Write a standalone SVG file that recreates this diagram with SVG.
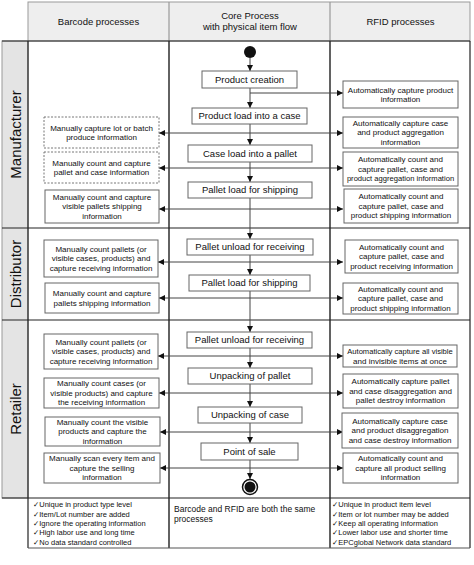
<svg xmlns="http://www.w3.org/2000/svg" width="474" height="565" viewBox="0 0 474 565">
<style>
text{font-family:"Liberation Sans","DejaVu Sans",Arial,sans-serif;fill:#111}
.hdrtxt{font-size:9.5px;text-anchor:middle}
.lane{font-size:15px;text-anchor:middle}
.core rect{fill:#fff;stroke:#666;stroke-width:1}
.core text{font-size:9.5px;text-anchor:middle}
.side rect{fill:#fff;stroke:#666;stroke-width:1}
.side rect.dash{stroke:#777;stroke-dasharray:2 1.5}
.side text{font-size:8px;text-anchor:middle}
.side text.tight{font-size:7.6px}
.foot{font-size:7.5px}
.foot2{font-size:8.5px}
.grid{stroke:#222;stroke-width:1.2;fill:none}
.conn line{stroke:#444;stroke-width:1}
</style>
<defs>
<marker id="ah" viewBox="0 0 8 8" refX="8" refY="4" markerWidth="6" markerHeight="6" orient="auto" markerUnits="userSpaceOnUse"><path d="M0,0 L8,4 L0,8 z" fill="#111"/></marker>
</defs>
<rect width="474" height="565" fill="#fff"/>
<g id="table">
<rect x="28" y="2" width="442" height="39" fill="#eeeeee" stroke="#999" stroke-width="1"/>
<rect x="2" y="41" width="26" height="457" fill="#e4e4e4" stroke="#999" stroke-width="1"/>
<line class="grid" x1="169" y1="2" x2="169" y2="548" style="stroke:#999"/>
<line class="grid" x1="330" y1="2" x2="330" y2="548" style="stroke:#999"/>
<line class="grid" x1="169" y1="41" x2="169" y2="548"/>
<line class="grid" x1="330" y1="41" x2="330" y2="548"/>
<line class="grid" x1="28" y1="41" x2="28" y2="548"/>
<line class="grid" x1="470" y1="41" x2="470" y2="548"/>
<line class="grid" x1="2" y1="41" x2="470" y2="41"/>
<line class="grid" x1="2" y1="228" x2="470" y2="228"/>
<line class="grid" x1="2" y1="320" x2="470" y2="320"/>
<line class="grid" x1="2" y1="498" x2="470" y2="498"/>
<line class="grid" x1="28" y1="548" x2="470" y2="548" style="stroke:#555"/>
<text class="hdrtxt" x="98.5" y="25">Barcode processes</text>
<text class="hdrtxt" x="250" y="19">Core Process</text>
<text class="hdrtxt" x="250" y="30">with physical item flow</text>
<text class="hdrtxt" x="400.5" y="25">RFID processes</text>
<text class="lane" transform="translate(21,134.5) rotate(-90)">Manufacturer</text>
<text class="lane" transform="translate(21,274) rotate(-90)">Distributor</text>
<text class="lane" transform="translate(21,409) rotate(-90)">Retailer</text>
<text class="foot" x="33" y="507">✓Unique in product type level</text>
<text class="foot" x="33" y="516.5">✓Item/Lot number are added</text>
<text class="foot" x="33" y="526">✓Ignore the operating information</text>
<text class="foot" x="33" y="535.4">✓High labor use and long time</text>
<text class="foot" x="33" y="544.8">✓No data standard controlled</text>
<text class="foot2" x="174" y="512">Barcode and RFID are both the same</text>
<text class="foot2" x="174" y="522">processes</text>
<text class="foot" x="332" y="507">✓Unique in product item level</text>
<text class="foot" x="332" y="516.5">✓Item or lot number may be added</text>
<text class="foot" x="332" y="526">✓Keep all operating information</text>
<text class="foot" x="332" y="535.4">✓Lower labor use and shorter time</text>
<text class="foot" x="332" y="544.8">✓EPCglobal Network data standard</text>
</g>
<g id="connectors" class="conn">
<line x1="250" y1="58" x2="250" y2="71" marker-end="url(#ah)"/>
<line x1="250" y1="88" x2="250" y2="108" marker-end="url(#ah)"/>
<line x1="250" y1="124" x2="250" y2="145" marker-end="url(#ah)"/>
<line x1="250" y1="162" x2="250" y2="182" marker-end="url(#ah)"/>
<line x1="250" y1="198" x2="250" y2="239" marker-end="url(#ah)"/>
<line x1="250" y1="255" x2="250" y2="275" marker-end="url(#ah)"/>
<line x1="250" y1="291" x2="250" y2="332" marker-end="url(#ah)"/>
<line x1="250" y1="348" x2="250" y2="368" marker-end="url(#ah)"/>
<line x1="250" y1="384" x2="250" y2="407" marker-end="url(#ah)"/>
<line x1="250" y1="423" x2="250" y2="443" marker-end="url(#ah)"/>
<line x1="250" y1="460" x2="250" y2="479" marker-end="url(#ah)"/>
<line x1="250" y1="93" x2="343" y2="93" marker-end="url(#ah)"/>
<line x1="250" y1="133" x2="159" y2="133" marker-end="url(#ah)"/>
<line x1="250" y1="133" x2="343" y2="133" marker-end="url(#ah)"/>
<line x1="250" y1="168" x2="159" y2="168" marker-end="url(#ah)"/>
<line x1="250" y1="168" x2="343" y2="168" marker-end="url(#ah)"/>
<line x1="250" y1="209" x2="159" y2="209" marker-end="url(#ah)"/>
<line x1="250" y1="209" x2="343" y2="209" marker-end="url(#ah)"/>
<line x1="250" y1="262" x2="158" y2="262" marker-end="url(#ah)"/>
<line x1="250" y1="262" x2="343" y2="262" marker-end="url(#ah)"/>
<line x1="250" y1="298" x2="159" y2="298" marker-end="url(#ah)"/>
<line x1="250" y1="298" x2="343" y2="298" marker-end="url(#ah)"/>
<line x1="250" y1="356" x2="158" y2="356" marker-end="url(#ah)"/>
<line x1="250" y1="356" x2="343" y2="356" marker-end="url(#ah)"/>
<line x1="250" y1="393" x2="159" y2="393" marker-end="url(#ah)"/>
<line x1="250" y1="393" x2="343" y2="393" marker-end="url(#ah)"/>
<line x1="250" y1="432" x2="160" y2="432" marker-end="url(#ah)"/>
<line x1="250" y1="432" x2="343" y2="432" marker-end="url(#ah)"/>
<line x1="250" y1="468" x2="160" y2="468" marker-end="url(#ah)"/>
<line x1="250" y1="468" x2="343" y2="468" marker-end="url(#ah)"/>
</g>
<g id="start"><circle cx="250" cy="52" r="6" fill="#111"/></g>
<g id="end"><circle cx="250" cy="487" r="7.5" fill="#fff" stroke="#111" stroke-width="1.5"/><circle cx="250" cy="487" r="5.5" fill="#111"/></g>
<g class="core">
<g id="c1"><rect x="202" y="71" width="95" height="17"/><text x="249.5" y="82.9">Product creation</text></g>
<g id="c2"><rect x="192" y="108" width="115" height="16"/><text x="249.5" y="119.4">Product load into a case</text></g>
<g id="c3"><rect x="188" y="145" width="124" height="17"/><text x="250" y="156.9">Case load into a pallet</text></g>
<g id="c4"><rect x="188" y="182" width="124" height="16"/><text x="250" y="193.4">Pallet load for shipping</text></g>
<g id="c5"><rect x="187" y="239" width="126" height="16"/><text x="250" y="250.4">Pallet unload for receiving</text></g>
<g id="c6"><rect x="189" y="275" width="121" height="16"/><text x="249.5" y="286.4">Pallet load for shipping</text></g>
<g id="c7"><rect x="187" y="332" width="125" height="16"/><text x="249.5" y="343.4">Pallet unload for receiving</text></g>
<g id="c8"><rect x="188" y="368" width="124" height="16"/><text x="250" y="379.4">Unpacking of pallet</text></g>
<g id="c9"><rect x="198" y="407" width="104" height="16"/><text x="250" y="418.4">Unpacking of case</text></g>
<g id="c10"><rect x="201" y="443" width="97" height="17"/><text x="249.5" y="454.9">Point of sale</text></g>
</g>
<g class="side">
<g id="l1"><rect class="dash" x="44" y="117" width="115" height="31"/><text x="101.5" y="130.5">Manually capture lot or batch</text><text x="101.5" y="140.1">produce information</text></g>
<g id="l2"><rect class="dash" x="44" y="152" width="115" height="31"/><text x="101.5" y="165.5">Manually count and capture</text><text x="101.5" y="175.1">pallet and case information</text></g>
<g id="l3"><rect x="45" y="190" width="114" height="33"/><text x="102" y="199.7">Manually count and capture</text><text x="102" y="209.3">visible pallets shipping</text><text x="102" y="218.9">information</text></g>
<g id="l4"><rect x="44" y="240" width="114" height="37"/><text x="101" y="251.7">Manually count pallets (or</text><text x="101" y="261.3">visible cases, products) and</text><text x="101" y="270.9">capture receiving information</text></g>
<g id="l5"><rect x="45" y="283" width="114" height="30"/><text x="102" y="296">Manually count and capture</text><text x="102" y="305.6">pallets shipping information</text></g>
<g id="l6"><rect x="44" y="334" width="114" height="35"/><text x="101" y="344.7">Manually count pallets (or</text><text x="101" y="354.3">visible cases, products) and</text><text x="101" y="363.9">capture receiving information</text></g>
<g id="l7"><rect x="44" y="378" width="115" height="30"/><text x="101.5" y="386.2">Manually count cases (or</text><text x="101.5" y="395.8">visible products) and capture</text><text x="101.5" y="405.4">the receiving information</text></g>
<g id="l8"><rect x="45" y="417" width="115" height="29"/><text x="102.5" y="424.7">Manually count the visible</text><text x="102.5" y="434.3">products and capture the</text><text x="102.5" y="443.9">information</text></g>
<g id="l9"><rect x="44" y="453" width="116" height="30"/><text x="102" y="461.2">Manually scan every item and</text><text x="102" y="470.8">capture the selling</text><text x="102" y="480.4">information</text></g>
<g id="r1"><rect x="343" y="81" width="115" height="27"/><text x="400.5" y="92.5">Automatically capture product</text><text x="400.5" y="102.1">information</text></g>
<g id="r2"><rect x="343" y="117" width="115" height="31"/><text x="400.5" y="125.7">Automatically capture case</text><text x="400.5" y="135.3">and product aggregation</text><text x="400.5" y="144.9">information</text></g>
<g id="r3"><rect x="343" y="152" width="115" height="34"/><text x="400.5" y="162.2">Automatically count and</text><text x="400.5" y="171.8">capture pallet, case and</text><text class="tight" x="400.5" y="181.4">product aggregation information</text></g>
<g id="r4"><rect x="344" y="189" width="114" height="34"/><text x="401" y="199.2">Automatically count and</text><text x="401" y="208.8">capture pallet, case and</text><text x="401" y="218.4">product shipping information</text></g>
<g id="r5"><rect x="345" y="240" width="113" height="33"/><text x="401.5" y="249.7">Automatically count and</text><text x="401.5" y="259.3">capture pallet, case and</text><text x="401.5" y="268.9">product receiving information</text></g>
<g id="r6"><rect x="343" y="283" width="115" height="31"/><text x="400.5" y="291.7">Automatically count and</text><text x="400.5" y="301.3">capture pallet, case and</text><text x="400.5" y="310.9">product shipping information</text></g>
<g id="r7"><rect x="343" y="345" width="114" height="22"/><text class="tight" x="400" y="354">Automatically capture all visible</text><text x="400" y="363.6">and invisible items at once</text></g>
<g id="r8"><rect x="343" y="374" width="115" height="34"/><text x="400.5" y="384.2">Automatically capture pallet</text><text x="400.5" y="393.8">and case disaggregation and</text><text x="400.5" y="403.4">pallet destroy information</text></g>
<g id="r9"><rect x="342" y="413" width="116" height="35"/><text x="400" y="423.7">Automatically capture case</text><text x="400" y="433.3">and product disaggregation</text><text x="400" y="442.9">and case destroy information</text></g>
<g id="r10"><rect x="343" y="453" width="115" height="30"/><text x="400.5" y="461.2">Automatically count and</text><text x="400.5" y="470.8">capture all product selling</text><text x="400.5" y="480.4">information</text></g>
</g>
</svg>
